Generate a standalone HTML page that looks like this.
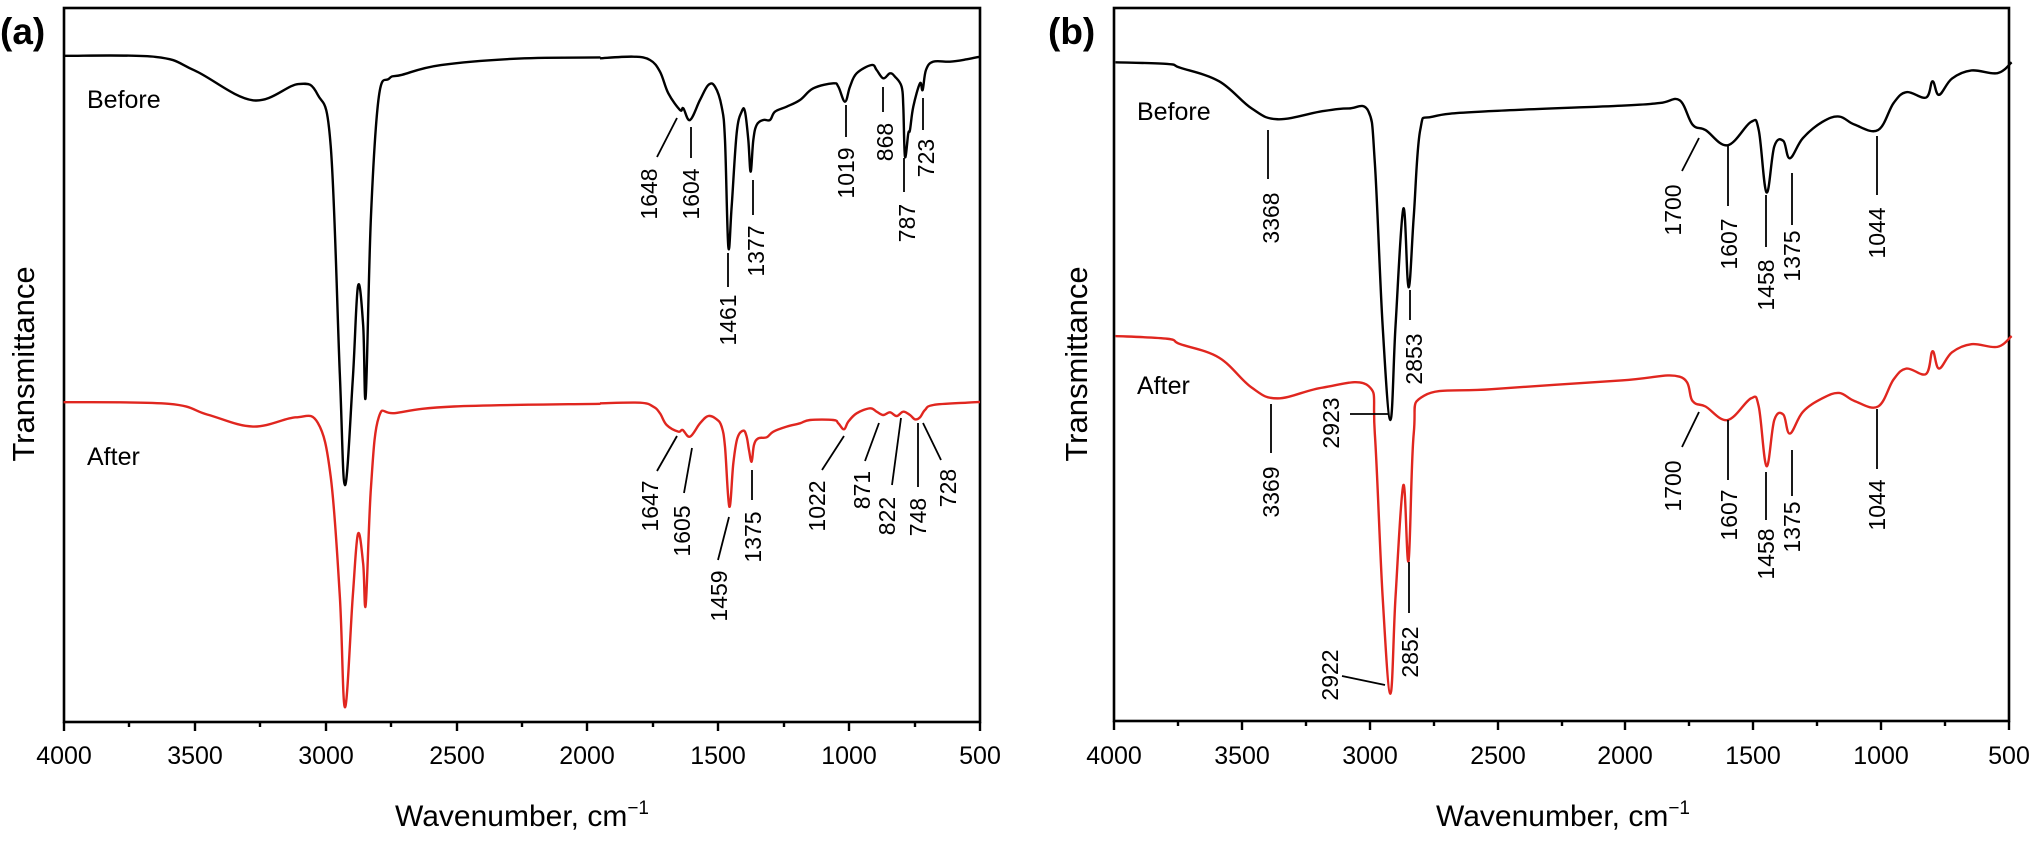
<!DOCTYPE html>
<html><head><meta charset="utf-8"><style>
html,body{margin:0;padding:0;background:#fff;}
svg{display:block;font-family:"Liberation Sans",Arial,sans-serif;}
.c{fill:none;stroke-width:2.4;stroke-linejoin:round;vector-effect:non-scaling-stroke;}
.k{stroke:#000}.r{stroke:#e0261f}
.ln{stroke:#000;stroke-width:1.8;}
.lb{font-size:23px;text-anchor:middle;dominant-baseline:central;}
.tk{font-size:25px;text-anchor:middle;}
</style></head><body>
<svg id="s" width="2031" height="849" viewBox="0 0 2031 849" xmlns="http://www.w3.org/2000/svg">
<rect x="64" y="8" width="916" height="714" fill="none" stroke="#000" stroke-width="2.6"/>
<rect x="1114" y="8" width="895" height="713" fill="none" stroke="#000" stroke-width="2.6"/>
<g stroke="#000" stroke-width="2.4">
<line x1="64" y1="722" x2="64" y2="731"/><line x1="195" y1="722" x2="195" y2="731"/><line x1="326" y1="722" x2="326" y2="731"/><line x1="457" y1="722" x2="457" y2="731"/><line x1="587" y1="722" x2="587" y2="731"/><line x1="718" y1="722" x2="718" y2="731"/><line x1="849" y1="722" x2="849" y2="731"/><line x1="980" y1="722" x2="980" y2="731"/>
<line x1="129" y1="722" x2="129" y2="727"/><line x1="260" y1="722" x2="260" y2="727"/><line x1="391" y1="722" x2="391" y2="727"/><line x1="522" y1="722" x2="522" y2="727"/><line x1="653" y1="722" x2="653" y2="727"/><line x1="784" y1="722" x2="784" y2="727"/><line x1="915" y1="722" x2="915" y2="727"/>
<line x1="1114" y1="721" x2="1114" y2="730"/><line x1="1242" y1="721" x2="1242" y2="730"/><line x1="1370" y1="721" x2="1370" y2="730"/><line x1="1498" y1="721" x2="1498" y2="730"/><line x1="1625" y1="721" x2="1625" y2="730"/><line x1="1753" y1="721" x2="1753" y2="730"/><line x1="1881" y1="721" x2="1881" y2="730"/><line x1="2009" y1="721" x2="2009" y2="730"/>
<line x1="1178" y1="721" x2="1178" y2="726"/><line x1="1306" y1="721" x2="1306" y2="726"/><line x1="1434" y1="721" x2="1434" y2="726"/><line x1="1562" y1="721" x2="1562" y2="726"/><line x1="1689" y1="721" x2="1689" y2="726"/><line x1="1817" y1="721" x2="1817" y2="726"/><line x1="1945" y1="721" x2="1945" y2="726"/>
</g>
<g class="tk">
<text x="64" y="764">4000</text><text x="195" y="764">3500</text><text x="326" y="764">3000</text><text x="457" y="764">2500</text><text x="587" y="764">2000</text><text x="718" y="764">1500</text><text x="849" y="764">1000</text><text x="980" y="764">500</text>
<text x="1114" y="764">4000</text><text x="1242" y="764">3500</text><text x="1370" y="764">3000</text><text x="1498" y="764">2500</text><text x="1625" y="764">2000</text><text x="1753" y="764">1500</text><text x="1881" y="764">1000</text><text x="2009" y="764">500</text>
</g>
<text x="522" y="826" font-size="30" text-anchor="middle">Wavenumber, cm<tspan font-size="19" dy="-12">−1</tspan></text>
<text x="1563" y="826" font-size="30" text-anchor="middle">Wavenumber, cm<tspan font-size="19" dy="-12">−1</tspan></text>
<text transform="translate(34,364) rotate(-90)" font-size="31" text-anchor="middle">Transmittance</text>
<text transform="translate(1087,364) rotate(-90)" font-size="31" text-anchor="middle">Transmittance</text>
<text x="0" y="44" font-size="37" font-weight="bold">(a)</text>
<text x="1048" y="44" font-size="37" font-weight="bold">(b)</text>
<text x="87" y="108" font-size="25">Before</text>
<text x="87" y="465" font-size="25">After</text>
<text x="1137" y="120" font-size="25">Before</text>
<text x="1137" y="394" font-size="25">After</text>

<g transform="scale(1.297,0.542)">
<polyline class="c k" points="49,103 120,105 150,130 195,185 230,155 245,175 255,270 262,690 266,895 272,700 276,528 280,600 282,730 286,400 292,180 300,145 310,138 340,120 400,108 463,106"/>
<polyline class="c r" points="49,742 130,745 160,765 195,787 228,770 245,780 255,880 262,1100 266,1305 272,1100 276,985 280,1040 282,1115 286,900 292,770 305,762 350,750 463,745"/>
<polyline class="c k" points="860,115 900,118 910,125 940,150 965,200 985,220 1020,205 1040,200 1055,205 1060,300 1066,600 1072,775 1076,600 1082,385 1086,530 1090,400 1095,240 1105,215 1150,205 1250,195 1280,190 1295,185 1305,230 1315,240 1332,268 1350,225 1356,240 1362,355 1368,270 1375,260 1380,292 1390,255 1405,225 1418,215 1430,230 1448,240 1460,190 1470,170 1485,180 1490,150 1495,175 1505,145 1520,130 1540,135 1551,115"/>
<polyline class="c r" points="860,620 900,625 910,635 940,660 965,715 985,735 1020,715 1055,712 1060,800 1066,1100 1072,1280 1076,1100 1082,895 1086,1035 1090,800 1098,730 1150,718 1250,702 1295,695 1305,740 1315,750 1332,775 1350,735 1356,750 1362,860 1368,775 1375,765 1380,800 1390,760 1405,735 1418,725 1430,740 1448,750 1460,700 1470,680 1485,690 1490,648 1495,680 1505,650 1520,635 1540,640 1551,620"/>
</g>
<g transform="translate(600,40) scale(0.3333)">
<polyline class="c k" points="0,55 100,50 150,60 180,95 205,160 240,210 250,205 270,240 300,180 325,135 345,140 365,200 375,300 385,620 395,500 410,280 425,215 435,215 445,300 452,395 460,300 470,255 490,240 510,240 525,215 560,200 600,180 640,145 700,130 715,140 735,185 750,140 770,100 815,75 830,90 850,115 870,100 885,110 905,140 910,200 915,350 925,280 930,270 940,200 960,130 968,150 978,90 1000,65 1050,65 1100,58 1140,50"/>
</g>
<g transform="translate(600,380) scale(0.3333)">
<polyline class="c r" points="0,70 120,68 160,80 180,100 200,135 235,155 248,150 270,170 300,130 325,108 350,118 365,140 375,200 388,380 400,250 412,175 430,152 440,170 447,210 455,245 462,195 475,175 500,172 520,155 560,140 600,130 630,120 700,120 715,130 732,148 745,125 770,100 810,85 830,95 850,105 870,97 890,108 910,95 930,105 945,118 960,112 975,90 1000,75 1100,68 1140,66"/>
</g>

<g class="ln">
<line x1="677" y1="118" x2="657" y2="157"/><line x1="691" y1="127" x2="691" y2="158"/><line x1="728" y1="253" x2="728" y2="287"/><line x1="753" y1="180" x2="753" y2="215"/><line x1="846" y1="105" x2="846" y2="137"/><line x1="883" y1="87" x2="883" y2="112"/><line x1="904" y1="158" x2="904" y2="192"/><line x1="923" y1="98" x2="923" y2="130"/>
<line x1="677" y1="436" x2="657" y2="471"/><line x1="692" y1="448" x2="684" y2="493"/><line x1="729" y1="517" x2="718" y2="560"/><line x1="752" y1="470" x2="752" y2="500"/><line x1="844" y1="436" x2="822" y2="470"/><line x1="879" y1="423" x2="865" y2="461"/><line x1="901" y1="418" x2="892" y2="485"/><line x1="918" y1="423" x2="918" y2="487"/><line x1="923" y1="423" x2="941" y2="460"/>
<line x1="1268" y1="130" x2="1268" y2="179"/><line x1="1699" y1="138" x2="1682" y2="171"/><line x1="1728" y1="146" x2="1728" y2="206"/><line x1="1766" y1="195" x2="1766" y2="247"/><line x1="1792" y1="173" x2="1792" y2="225"/><line x1="1877" y1="136" x2="1877" y2="195"/><line x1="1410" y1="290" x2="1410" y2="320"/><line x1="1350" y1="414" x2="1388" y2="414"/>
<line x1="1271" y1="404" x2="1271" y2="453"/><line x1="1699" y1="412" x2="1682" y2="447"/><line x1="1728" y1="420" x2="1728" y2="480"/><line x1="1766" y1="472" x2="1766" y2="520"/><line x1="1792" y1="450" x2="1792" y2="496"/><line x1="1877" y1="409" x2="1877" y2="469"/><line x1="1409" y1="562" x2="1409" y2="613"/><line x1="1342" y1="676" x2="1385" y2="685"/>
</g>
<g class="lb">
<text transform="translate(649,194) rotate(-90)">1648</text>
<text transform="translate(691,194) rotate(-90)">1604</text>
<text transform="translate(728,320) rotate(-90)">1461</text>
<text transform="translate(756,251) rotate(-90)">1377</text>
<text transform="translate(846,173) rotate(-90)">1019</text>
<text transform="translate(885,142) rotate(-90)">868</text>
<text transform="translate(907,223) rotate(-90)">787</text>
<text transform="translate(926,158) rotate(-90)">723</text>
<text transform="translate(650,506) rotate(-90)">1647</text>
<text transform="translate(682,531) rotate(-90)">1605</text>
<text transform="translate(719,596) rotate(-90)">1459</text>
<text transform="translate(753,537) rotate(-90)">1375</text>
<text transform="translate(817,506) rotate(-90)">1022</text>
<text transform="translate(862,490) rotate(-90)">871</text>
<text transform="translate(887,516) rotate(-90)">822</text>
<text transform="translate(918,517) rotate(-90)">748</text>
<text transform="translate(948,488) rotate(-90)">728</text>
<text transform="translate(1271,218) rotate(-90)">3368</text>
<text transform="translate(1673,210) rotate(-90)">1700</text>
<text transform="translate(1729,244) rotate(-90)">1607</text>
<text transform="translate(1766,285) rotate(-90)">1458</text>
<text transform="translate(1792,256) rotate(-90)">1375</text>
<text transform="translate(1877,233) rotate(-90)">1044</text>
<text transform="translate(1414,359) rotate(-90)">2853</text>
<text transform="translate(1331,423) rotate(-90)">2923</text>
<text transform="translate(1271,492) rotate(-90)">3369</text>
<text transform="translate(1673,486) rotate(-90)">1700</text>
<text transform="translate(1729,515) rotate(-90)">1607</text>
<text transform="translate(1766,554) rotate(-90)">1458</text>
<text transform="translate(1792,527) rotate(-90)">1375</text>
<text transform="translate(1877,505) rotate(-90)">1044</text>
<text transform="translate(1410,652) rotate(-90)">2852</text>
<text transform="translate(1330,675) rotate(-90)">2922</text>
</g>
</svg>
<script>
(function(){
var ns="http://www.w3.org/2000/svg";
var pls=document.querySelectorAll("polyline.c");
for(var i=0;i<pls.length;i++){
 var pl=pls[i];
 var pts=pl.getAttribute("points").trim().split(/\s+/).map(function(s){var a=s.split(",");return [parseFloat(a[0]),parseFloat(a[1])];});
 var d="M"+pts[0][0]+","+pts[0][1];
 var t=0.18;
 for(var j=0;j<pts.length-1;j++){
  var p0=pts[j>0?j-1:j],p1=pts[j],p2=pts[j+1],p3=pts[j+2<pts.length?j+2:j+1];
  var c1x=p1[0]+(p2[0]-p0[0])*t,c1y=p1[1]+(p2[1]-p0[1])*t;
  var c2x=p2[0]-(p3[0]-p1[0])*t,c2y=p2[1]-(p3[1]-p1[1])*t;
  d+=" C"+c1x.toFixed(2)+","+c1y.toFixed(2)+" "+c2x.toFixed(2)+","+c2y.toFixed(2)+" "+p2[0]+","+p2[1];
 }
 var p=document.createElementNS(ns,"path");
 p.setAttribute("d",d);
 p.setAttribute("class",pl.getAttribute("class"));
 pl.parentNode.replaceChild(p,pl);
}
})();
</script>
</body></html>
